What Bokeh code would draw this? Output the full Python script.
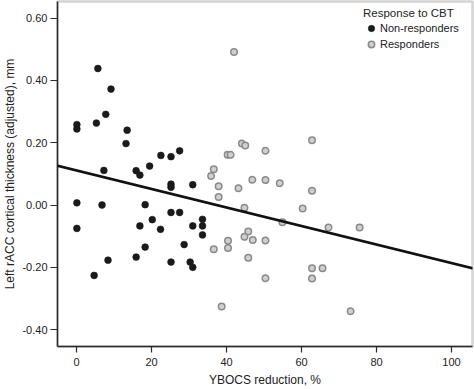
from bokeh.plotting import figure
from bokeh.models import Range1d, Legend, LegendItem, Slope, FixedTicker, NumeralTickFormatter
from bokeh.embed import file_html
from bokeh.resources import INLINE

# ---- data ----
non_resp_x = [0.1, 0.1, 5.7, 9.2, 7.8, 5.3, 13.5, 13.2, 7.3, 15.9, 16.9, 19.5, 22.5, 25.2, 27.5,
              25.2, 25.2, 31.0, 0.1, 0.1, 6.8, 18.3, 25.2, 27.5, 20.2, 16.9, 22.4, 31.0, 33.6,
              33.6, 33.6, 18.3, 28.7, 15.9, 8.4, 25.2, 30.3, 31.0, 4.7]
non_resp_y = [0.258, 0.244, 0.438, 0.372, 0.291, 0.263, 0.240, 0.197, 0.111, 0.110, 0.096, 0.125,
              0.159, 0.155, 0.174, 0.067, 0.057, 0.065, 0.007, -0.075, 0.000, 0.001, -0.024,
              -0.024, -0.047, -0.067, -0.078, -0.067, -0.046, -0.067, -0.096, -0.135, -0.127,
              -0.167, -0.177, -0.183, -0.183, -0.200, -0.226]

resp_x = [42.0, 40.3, 41.1, 44.1, 45.0, 50.4, 62.8, 36.6, 35.9, 46.9, 50.4, 54.2, 37.9, 43.2,
          62.8, 37.9, 44.8, 60.3, 54.9, 67.2, 75.5, 45.8, 44.8, 47.0, 50.4, 40.4, 40.4, 36.6,
          45.8, 62.8, 65.6, 50.4, 62.8, 73.1, 38.7]
resp_y = [0.491, 0.161, 0.161, 0.197, 0.191, 0.174, 0.208, 0.115, 0.093, 0.081, 0.080, 0.070,
          0.060, 0.054, 0.046, 0.026, -0.009, -0.011, -0.055, -0.072, -0.072, -0.085, -0.102,
          -0.112, -0.114, -0.115, -0.138, -0.142, -0.169, -0.203, -0.203, -0.235, -0.236,
          -0.341, -0.326]

fit_intercept = 0.111
fit_slope = -0.002975

x_ticks = [0, 20, 40, 60, 80, 100]
y_ticks = [-0.4, -0.2, 0.0, 0.2, 0.4, 0.6]

FONT = "Liberation Sans"
TXT = "#222222"
AX = "#2a2a2a"

p = figure(width=474, height=389, output_backend="svg", toolbar_location=None,
           x_range=Range1d(-5.07, 105.6), y_range=Range1d(-0.454, 0.653),
           min_border_left=57, min_border_right=2, min_border_top=1, min_border_bottom=42)

p.grid.visible = False
p.outline_line_color = "#d4d4d4"
p.outline_line_width = 2.5
p.background_fill_color = "white"
p.border_fill_color = "white"

for ax in (p.xaxis[0], p.yaxis[0]):
    ax.axis_line_color = AX
    ax.axis_line_width = 1.5
    ax.major_tick_line_color = AX
    ax.major_tick_line_width = 1.2
    ax.major_tick_in = 0
    ax.minor_tick_line_color = None
    ax.major_label_text_font = FONT
    ax.major_label_text_font_size = "11px"
    ax.major_label_text_color = TXT
    ax.axis_label_text_font = FONT
    ax.axis_label_text_font_size = "12px"
    ax.axis_label_text_font_style = "normal"
    ax.axis_label_text_color = TXT

p.xaxis.ticker = FixedTicker(ticks=x_ticks)
p.yaxis.ticker = FixedTicker(ticks=y_ticks)
p.yaxis.formatter = NumeralTickFormatter(format="0.00")
p.xaxis.axis_label = "YBOCS reduction, %"
p.yaxis.axis_label = "Left rACC cortical thickness (adjusted), mm"
p.xaxis.major_tick_out = 6
p.xaxis.major_label_standoff = 5
p.xaxis.axis_label_standoff = 4
p.yaxis.major_tick_out = 7
p.yaxis.major_label_standoff = 3
p.yaxis.axis_label_standoff = 2

p.add_layout(Slope(gradient=fit_slope, y_intercept=fit_intercept,
                   line_color="#111111", line_width=2.6))

r_non = p.scatter(non_resp_x, non_resp_y, size=6.8, fill_color="#1a1a1a", line_color="#1a1a1a",
                  line_width=0.6)
r_resp = p.scatter(resp_x, resp_y, size=6.5, fill_color="#cfcfcf", line_color="#8a8a8a",
                   line_width=1.5)

legend = Legend(items=[LegendItem(label="Non-responders", renderers=[r_non]),
                       LegendItem(label="Responders", renderers=[r_resp])],
                location=(306, 294), title="Response to CBT",
                title_text_font=FONT, title_text_font_size="11.5px", title_text_color=TXT,
                title_text_font_style="normal", title_standoff=1,
                label_text_font=FONT, label_text_font_size="11px", label_text_color=TXT,
                border_line_color=None, background_fill_alpha=0,
                padding=2, margin=0, spacing=0, glyph_width=16, glyph_height=16,
                label_height=15, label_standoff=1)
p.add_layout(legend)

open("out.html", "w").write(file_html(p, INLINE))
